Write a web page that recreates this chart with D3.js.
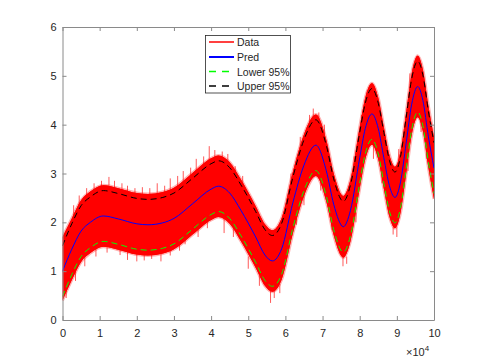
<!DOCTYPE html>
<html><head><meta charset="utf-8">
<script src="https://cdn.jsdelivr.net/npm/d3@7"></script>
<style>html,body{margin:0;padding:0;background:#fff;}svg{display:block;}</style>
</head><body>
<svg id="chart" width="480" height="360"></svg>
<script>
// x sample positions (raw units)
const xKnots = [0, 2500, 5000, 7500, 11000, 15000, 20000, 23000, 27000, 30000, 35000, 40000, 42000, 45000, 48000, 52000, 54500, 56500, 59000, 62000, 65000, 68200, 71000, 73000, 75600, 77500, 80000, 81500, 83300, 85000, 86500, 88000, 89500, 91000, 92500, 94000, 95600, 97000, 98500, 100000];
const pred = [1.00, 1.45, 1.82, 2.00, 2.13, 2.07, 1.97, 1.95, 1.99, 2.08, 2.38, 2.68, 2.74, 2.60, 2.25, 1.70, 1.33, 1.21, 1.46, 2.40, 3.17, 3.58, 3.06, 2.37, 1.91, 2.24, 3.32, 3.92, 4.22, 3.92, 3.32, 2.75, 2.51, 2.83, 3.62, 4.42, 4.78, 4.50, 3.75, 3.11];
const upper95 = [1.52, 1.97, 2.34, 2.52, 2.65, 2.59, 2.49, 2.47, 2.51, 2.60, 2.90, 3.20, 3.26, 3.12, 2.77, 2.22, 1.85, 1.73, 1.98, 2.92, 3.69, 4.10, 3.58, 2.89, 2.43, 2.76, 3.84, 4.44, 4.74, 4.44, 3.84, 3.27, 3.03, 3.35, 4.14, 4.94, 5.30, 5.02, 4.27, 3.63];
const lower95 = [0.48, 0.93, 1.30, 1.48, 1.61, 1.55, 1.45, 1.43, 1.47, 1.56, 1.86, 2.16, 2.22, 2.08, 1.73, 1.18, 0.81, 0.69, 0.94, 1.88, 2.65, 3.06, 2.54, 1.85, 1.39, 1.72, 2.80, 3.40, 3.70, 3.40, 2.80, 2.23, 1.99, 2.31, 3.10, 3.90, 4.26, 3.98, 3.23, 2.59];
// envelope of the noisy data
const dataHigh = [1.70, 2.08, 2.45, 2.63, 2.76, 2.70, 2.60, 2.58, 2.62, 2.71, 3.01, 3.31, 3.37, 3.23, 2.88, 2.33, 1.96, 1.84, 2.09, 3.03, 3.80, 4.21, 3.69, 3.00, 2.54, 2.87, 3.95, 4.55, 4.85, 4.55, 3.95, 3.38, 3.14, 3.46, 4.25, 5.05, 5.41, 5.13, 4.38, 3.74];
const dataLow = [0.40, 0.82, 1.19, 1.37, 1.50, 1.44, 1.34, 1.32, 1.36, 1.45, 1.75, 2.05, 2.11, 1.97, 1.62, 1.07, 0.70, 0.58, 0.83, 1.77, 2.54, 2.95, 2.43, 1.74, 1.28, 1.61, 2.69, 3.29, 3.59, 3.29, 2.69, 2.12, 1.88, 2.20, 2.99, 3.79, 4.15, 3.87, 3.12, 2.48];
// outlying data spikes: [x, from, to]
const spikes = [
  [3000, 2.0, 2.35], [4500, 2.3, 2.55], [6500, 2.4, 2.7], [8500, 2.55, 2.8], [10500, 2.65, 2.85],
  [12500, 2.6, 2.93], [14000, 2.6, 2.85], [16000, 2.6, 2.8], [17500, 2.5, 2.75], [19500, 2.5, 2.7],
  [21500, 2.45, 2.72], [23500, 2.5, 2.7], [25500, 2.5, 2.8], [27500, 2.55, 2.75], [29000, 2.6, 2.9],
  [31000, 2.7, 2.95], [32500, 2.8, 3.05], [34500, 2.9, 3.12], [36000, 3.0, 3.3], [38000, 3.15, 3.35],
  [39500, 3.2, 3.56], [41000, 3.25, 3.48], [43000, 3.25, 3.45], [44500, 3.2, 3.4], [46500, 2.9, 3.15],
  [48500, 2.7, 2.95], [61500, 2.7, 3.0], [64000, 3.5, 3.75], [66500, 4.0, 4.2], [67500, 4.0, 4.33],
  [69000, 4.0, 4.25], [70500, 3.8, 4.0], [78500, 3.1, 3.35], [80500, 4.0, 4.2], [82000, 4.5, 4.7],
  [83000, 4.6, 4.75], [84000, 4.6, 4.7], [90500, 3.2, 3.5], [93500, 4.8, 5.05], [95200, 5.2, 5.37],
  [96300, 5.2, 5.3],
  [1000, 0.7, 0.45], [3500, 1.0, 0.8], [6000, 1.3, 1.1], [9000, 1.55, 1.3], [12000, 1.55, 1.38],
  [15500, 1.5, 1.33], [17500, 1.4, 1.23], [20000, 1.4, 1.2], [22000, 1.38, 1.22], [24000, 1.35, 1.25],
  [26500, 1.4, 1.2], [29000, 1.5, 1.32], [31500, 1.6, 1.42], [33000, 1.7, 1.55], [36500, 1.85, 1.7],
  [39000, 2.05, 1.88], [43500, 2.15, 1.78], [46000, 1.9, 1.7], [50000, 1.3, 1.05], [53000, 0.9, 0.7],
  [56000, 0.6, 0.35], [57000, 0.6, 0.45], [58500, 0.75, 0.55], [63000, 2.2, 1.95], [65000, 2.6, 2.35],
  [69500, 2.9, 2.65], [72500, 2.1, 1.85], [75500, 1.3, 1.1], [76500, 1.3, 1.15], [79000, 2.2, 2.0],
  [83700, 3.6, 3.3], [86000, 3.0, 2.8], [89000, 1.9, 1.75], [90000, 1.9, 1.7], [93000, 3.3, 3.05],
  [96500, 4.1, 3.85], [98000, 3.5, 3.3]
];
const xTicks = [0, 10000, 20000, 30000, 40000, 50000, 60000, 70000, 80000, 90000, 100000];
const xTickLabels = ["0", "1", "2", "3", "4", "5", "6", "7", "8", "9", "10"];
const yTicks = [0, 1, 2, 3, 4, 5, 6];
const legendLabels = ["Data", "Pred", "Lower 95%", "Upper 95%"];

const svg = d3.select("#chart");
const L = 62.5, R = 434, T = 27, B = 320;
const x = d3.scaleLinear().domain([0, 100000]).range([L, R]);
const y = d3.scaleLinear().domain([0, 6]).range([B, T]);
const font = "'Liberation Sans', Arial, Helvetica, sans-serif";
const axisCol = "#8a8a8a", textCol = "#262626";

const idx = d3.range(xKnots.length);
svg.append("clipPath").attr("id", "clip").append("rect")
  .attr("x", L).attr("y", T).attr("width", R - L).attr("height", B - T);
const g = svg.append("g").attr("clip-path", "url(#clip)");

// Data band
const band = d3.area().x(i => x(xKnots[i])).y0(i => y(dataLow[i])).y1(i => y(dataHigh[i])).curve(d3.curveMonotoneX);
g.append("path").datum(idx).attr("d", band)
  .attr("fill", "#ff0000").attr("stroke", "#ff0000").attr("stroke-opacity", 0.3).attr("stroke-width", 3);
g.append("path").datum(idx).attr("d", band).attr("fill", "#ff0000");
g.selectAll("line.spike").data(spikes).join("line").attr("class", "spike")
  .attr("x1", d => x(d[0])).attr("x2", d => x(d[0]))
  .attr("y1", d => y(d[1])).attr("y2", d => y(d[2]))
  .attr("stroke", "#ff0000").attr("stroke-opacity", 0.65).attr("stroke-width", 1);

const line = arr => d3.line().x(i => x(xKnots[i])).y(i => y(arr[i])).curve(d3.curveMonotoneX)(idx);
g.append("path").attr("d", line(pred)).attr("fill", "none").attr("stroke", "#0000ff").attr("stroke-width", 1);
g.append("path").attr("d", line(lower95)).attr("fill", "none").attr("stroke", "#00ff00").attr("stroke-width", 1).attr("stroke-dasharray", "6,4");
g.append("path").attr("d", line(upper95)).attr("fill", "none").attr("stroke", "#000000").attr("stroke-width", 1).attr("stroke-dasharray", "6,4");

// Axes
const xAxis = d3.axisBottom(x).tickValues(xTicks).tickFormat((d, i) => xTickLabels[i]).tickSizeInner(-4).tickSizeOuter(0).tickPadding(9);
const yAxis = d3.axisLeft(y).tickValues(yTicks).tickFormat(d3.format("d")).tickSizeInner(-4).tickSizeOuter(0).tickPadding(6);
const xTop = d3.axisTop(x).tickValues(xTicks).tickFormat("").tickSizeInner(-4).tickSizeOuter(0);
const yRight = d3.axisRight(y).tickValues(yTicks).tickFormat("").tickSizeInner(-4).tickSizeOuter(0);
function style(sel) {
  sel.select(".domain").attr("stroke", axisCol).attr("stroke-width", 1);
  sel.selectAll(".tick line").attr("stroke", axisCol);
  sel.selectAll("text").attr("fill", textCol).attr("font-family", font).attr("font-size", 11);
}
svg.append("g").attr("transform", `translate(0,${B})`).call(xAxis).call(style);
svg.append("g").attr("transform", `translate(${L},0)`).call(yAxis).call(style);
svg.append("g").attr("transform", `translate(0,${T})`).call(xTop).call(style);
svg.append("g").attr("transform", `translate(${R},0)`).call(yRight).call(style);

// exponent label
const ex = svg.append("text").attr("x", 406).attr("y", 356).attr("font-family", font).attr("font-size", 11).attr("fill", textCol);
ex.append("tspan").text("\u00d710");
ex.append("tspan").attr("dy", -5).attr("font-size", 8).text("4");

// Legend
const lg = svg.append("g");
lg.append("rect").attr("x", 205.5).attr("y", 35.5).attr("width", 85).attr("height", 57.5)
  .attr("fill", "#fff").attr("stroke", "#262626").attr("stroke-width", 0.8);
const legStyles = [
  {c: "#ff0000", d: null, w: 1.5}, {c: "#0000ff", d: null, w: 2},
  {c: "#00ff00", d: "7,6", w: 1.5}, {c: "#000000", d: "7,6", w: 1.5}
];
const legY = [42, 57, 71.5, 86];
legendLabels.forEach((lab, i) => {
  const s = legStyles[i];
  const ln = lg.append("line").attr("x1", 209).attr("x2", 234).attr("y1", legY[i]).attr("y2", legY[i])
    .attr("stroke", s.c).attr("stroke-width", s.w);
  if (s.d) ln.attr("stroke-dasharray", s.d);
  lg.append("text").attr("x", 237).attr("y", Math.round(legY[i]) + 4).attr("font-family", font).attr("font-size", 10.5)
    .attr("fill", textCol).text(lab);
});
</script>
</body></html>
